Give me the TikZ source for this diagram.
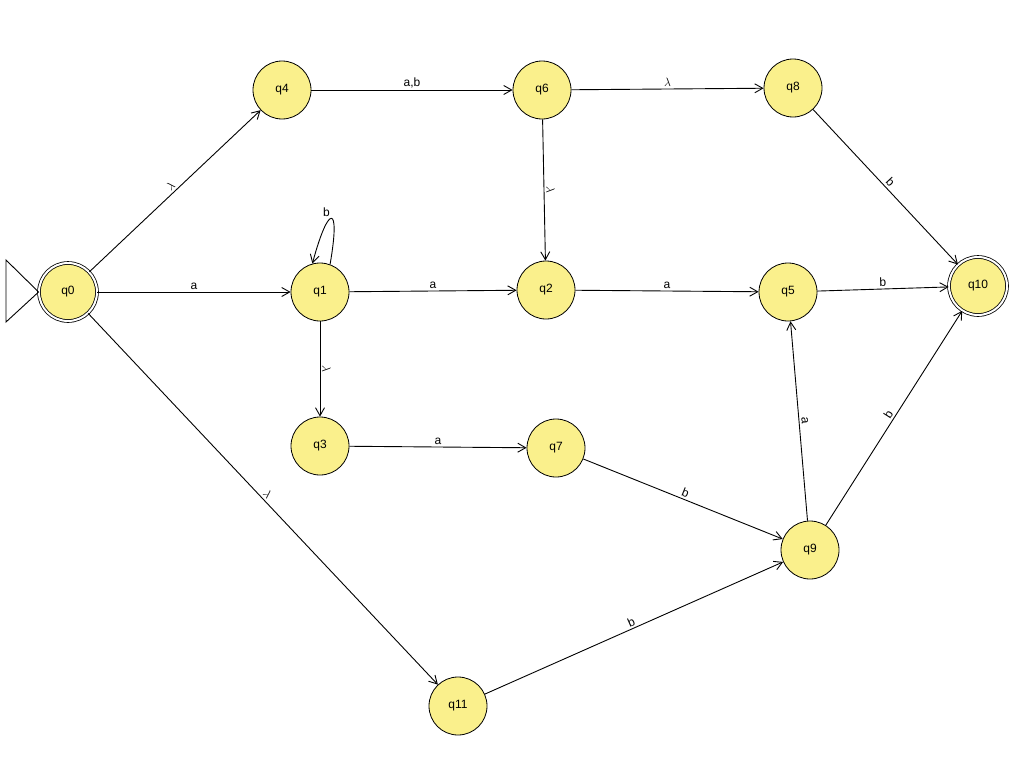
\documentclass[tikz,border=0pt]{standalone}
\usepackage{fontspec}
\setmainfont{Liberation Sans}
\usetikzlibrary{arrows.meta}
\begin{document}
\begin{tikzpicture}[x=1pt,y=-1pt,
  st/.style={circle,draw,line width=0.8pt,fill={rgb,255:red,250;green,240;blue,140},minimum size=58pt,inner sep=0pt,font=\fontsize{12}{14}\selectfont},
  acc/.style={st,double,double distance=2pt},
  tr/.style={-{Straight Barb[length=8pt,width=9pt]},line width=0.9pt},
  lb/.style={font=\fontsize{12}{14}\selectfont,sloped,above,inner sep=2pt}]
\useasboundingbox (0,0) rectangle (1024,768);
\node[acc] (q0) at (68,292) {q0};
\node[st] (q4) at (282,90) {q4};
\node[st] (q6) at (542,90) {q6};
\node[st] (q8) at (793,88) {q8};
\node[st] (q1) at (320,292) {q1};
\node[st] (q2) at (546,290) {q2};
\node[st] (q5) at (788,292) {q5};
\node[acc] (q10) at (978,286) {q10};
\node[st] (q3) at (320,446) {q3};
\node[st] (q7) at (556,448) {q7};
\node[st] (q9) at (810,550) {q9};
\node[st] (q11) at (458,706) {q11};
\coordinate (ia) at (6,260);
\coordinate (ib) at (6,322);
\draw[line width=0.9pt] (q0.west) -- (ia) -- (ib) -- cycle;
\draw[tr] (q0) -- node[lb]{$\lambda$} (q4);
\draw[tr] (q0) -- node[lb]{a} (q1);
\draw[tr] (q0) -- node[lb]{$\lambda$} (q11);
\draw[tr] (q4) -- node[lb]{a,b} (q6);
\draw[tr] (q6) -- node[lb]{$\lambda$} (q8);
\draw[tr] (q6) -- node[lb]{$\lambda$} (q2);
\draw[tr] (q8) -- node[lb]{b} (q10);
\draw[tr] (q1.70) to[out=80,in=75,looseness=9] node[font=\fontsize{12}{14}\selectfont,above left,inner sep=1pt]{b} (q1.105);
\draw[tr] (q1) -- node[lb]{a} (q2);
\draw[tr] (q1) -- node[lb]{$\lambda$} (q3);
\draw[tr] (q2) -- node[lb]{a} (q5);
\draw[tr] (q5) -- node[lb]{b} (q10);
\draw[tr] (q3) -- node[lb]{a} (q7);
\draw[tr] (q7) -- node[lb]{b} (q9);
\draw[tr] (q9) -- node[lb]{a} (q5);
\draw[tr] (q9) -- node[lb]{b} (q10);
\draw[tr] (q11) -- node[lb]{b} (q9);
\end{tikzpicture}
\end{document}
